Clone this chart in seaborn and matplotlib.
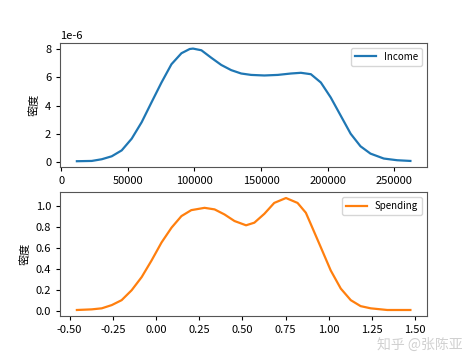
import numpy as np
import pandas as pd
import seaborn as sns
import matplotlib
matplotlib.use('Agg')
import matplotlib.pyplot as plt

plt.rcParams['font.family'] = ['Noto Sans CJK SC', 'DejaVu Sans']
plt.rcParams['axes.unicode_minus'] = False

# Income density curve (density in units of 1e-6)
income_x = [11600, 22800, 30300, 37800, 45300, 52800, 60300, 67700, 75200,
            82700, 90200, 96400, 98900, 105200, 112600, 120100, 127600,
            135100, 142600, 152500, 162600, 172500, 180000, 187500, 195000,
            202400, 209900, 217400, 224800, 232300, 242300, 252300, 262300]
income_d = [0.05, 0.07, 0.19, 0.40, 0.82, 1.65, 2.82, 4.23, 5.64,
            6.94, 7.72, 8.02, 8.05, 7.93, 7.40, 6.89, 6.52,
            6.28, 6.18, 6.14, 6.18, 6.28, 6.33, 6.23, 5.64,
            4.58, 3.29, 2.00, 1.11, 0.59, 0.24, 0.12, 0.07]

# Spending density curve
spend_x = [-0.458, -0.372, -0.314, -0.256, -0.199, -0.141, -0.083, -0.026,
           0.032, 0.090, 0.147, 0.204, 0.281, 0.339, 0.396, 0.454, 0.521,
           0.569, 0.627, 0.684, 0.752, 0.819, 0.867, 0.896, 0.954, 1.011,
           1.069, 1.127, 1.184, 1.242, 1.338, 1.472]
spend_d = [0.007, 0.013, 0.023, 0.054, 0.101, 0.196, 0.322, 0.48,
           0.653, 0.795, 0.905, 0.962, 0.984, 0.969, 0.921, 0.858, 0.817,
           0.842, 0.927, 1.031, 1.078, 1.031, 0.937, 0.827, 0.605, 0.385,
           0.212, 0.101, 0.044, 0.023, 0.007, 0.007]

income = pd.DataFrame({'x': income_x, 'd': np.array(income_d) * 1e-6})
spend = pd.DataFrame({'x': spend_x, 'd': spend_d})

fig = plt.figure(figsize=(4.74, 3.55), dpi=100)
ax1 = fig.add_axes([0.127, 0.530, 0.774, 0.349])
ax2 = fig.add_axes([0.127, 0.111, 0.774, 0.347])

sns.lineplot(data=income, x='x', y='d', ax=ax1, color='#1f77b4', lw=1.6, label='Income')
sns.lineplot(data=spend, x='x', y='d', ax=ax2, color='#ff7f0e', lw=1.6, label='Spending')

for ax in (ax1, ax2):
    ax.set_xlabel('')
    ax.set_ylabel('密度', fontsize=8)
    ax.tick_params(labelsize=8, length=3)
    ax.legend(loc='upper right', fontsize=7, handlelength=2.2)
    for s in ax.spines.values():
        s.set_color('#555555')

ax1.set_xticks([0, 50000, 100000, 150000, 200000, 250000])
ax1.set_yticks([0, 2e-6, 4e-6, 6e-6, 8e-6])
ax1.yaxis.get_offset_text().set_fontsize(8)
ax2.set_xticks([-0.5, -0.25, 0, 0.25, 0.5, 0.75, 1.0, 1.25, 1.5])
ax2.set_xticklabels(['%.2f' % v for v in [-0.5, -0.25, 0, 0.25, 0.5, 0.75, 1.0, 1.25, 1.5]])
ax2.set_yticks([0, 0.2, 0.4, 0.6, 0.8, 1.0])
ax2.set_yticklabels(['%.1f' % v for v in [0, 0.2, 0.4, 0.6, 0.8, 1.0]])

fig.text(0.975, 0.008, '知乎 @张陈亚', ha='right', va='bottom', fontsize=10, color='#d0d0d0')

fig.savefig('out.png', dpi=100)
